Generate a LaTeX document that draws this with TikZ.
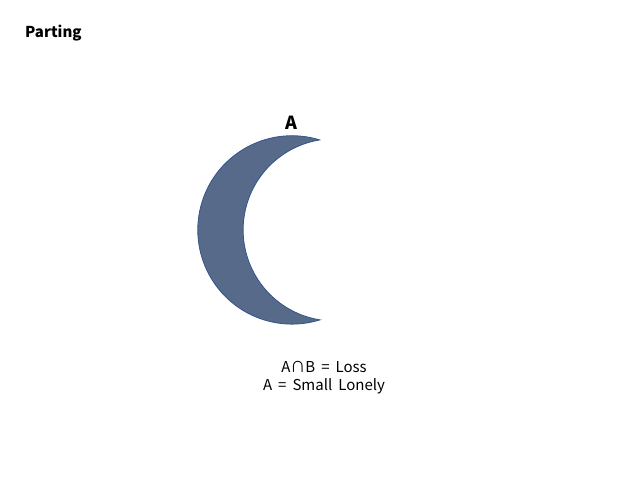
\documentclass[tikz,border=0pt]{standalone}
\usepackage{fontspec}
\setmainfont{Noto Sans CJK KR}
\newfontfamily\captionfont[WordSpace=1.8]{Noto Sans CJK KR}
\usepackage{tikz}
\tikzset{
  every crescent/.style={fill=moonfill,draw=moonedge,line width=0.8pt},
  label text/.style={inner sep=0pt,font=\captionfont\fontsize{15}{18}\selectfont},
}
\definecolor{moonfill}{RGB}{87,106,137}
\definecolor{moonedge}{RGB}{52,84,140}

\begin{document}
\begin{tikzpicture}[x=1pt,y=-1pt]
\useasboundingbox (0,0) rectangle (638,478);
\node[anchor=west,inner sep=0pt,font=\fontsize{15}{18}\selectfont\bfseries] (title) at (25,33) {Parting};

% the set A as a crescent
\draw[every crescent] (320,140) arc[start angle=-72.7,end angle=-287.3,radius=94.2]
  arc[start angle=99,end angle=261,radius=91.1] -- cycle;
\node[inner sep=0pt,font=\fontsize{18}{18}\selectfont\bfseries] (a-label) at (291,123) {A};

\node[label text,align=center] (caption) at (324,378) {A∩B = Loss\\A = Small Lonely};
\end{tikzpicture}
\end{document}
